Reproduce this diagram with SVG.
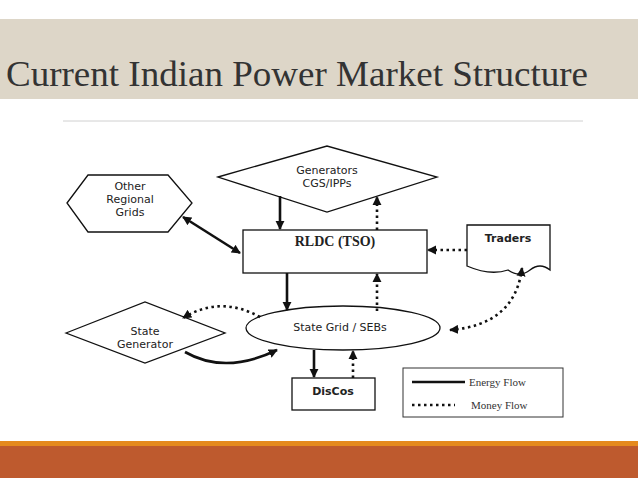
<svg xmlns="http://www.w3.org/2000/svg" width="638" height="478" viewBox="0 0 638 478">
<style>
.s{fill:#fff;stroke:#111;stroke-width:1.3}
.t{font-family:"DejaVu Sans",sans-serif;font-size:11px;fill:#222;text-anchor:middle}
.e{fill:none;stroke:#111;stroke-width:2.6}
.m{fill:none;stroke:#111;stroke-width:2.6;stroke-dasharray:2.5 3.5}
</style>
<defs>
<marker id="a" viewBox="0 0 10 10" refX="9" refY="5" markerWidth="3.5" markerHeight="3.5" orient="auto-start-reverse"><path d="M0,0L10,5L0,10z" fill="#111"/></marker>
</defs>
<rect width="638" height="478" fill="#fff"/>
<rect y="19" width="638" height="80" fill="#ddd6c8"/>
<text x="6" y="86" font-family="Liberation Serif,serif" font-size="36" fill="#333" textLength="582" lengthAdjust="spacingAndGlyphs">Current Indian Power Market Structure</text>
<line x1="63" y1="121" x2="583" y2="121" stroke="#d0d0d0" stroke-width="1"/>
<rect y="441" width="638" height="5" fill="#e58a1e"/>
<rect y="446" width="638" height="32" fill="#be5a2e"/>
<g id="generators"><polygon class="s" points="218,177 327,146 437,177 327,212"/><text class="t" x="327" y="174">Generators</text><text class="t" x="327" y="187">CGS/IPPs</text></g>
<g id="other"><polygon class="s" points="67,203 88,175 168,175 192,203 168,232 88,232"/><text class="t" x="130" y="190">Other</text><text class="t" x="130" y="203">Regional</text><text class="t" x="130" y="216">Grids</text></g>
<g id="rldc"><rect class="s" x="243" y="230" width="184" height="43"/><text x="335" y="246" font-family="Liberation Serif,serif" font-weight="bold" font-size="14" text-anchor="middle" fill="#222">RLDC  (TSO)</text></g>
<g id="traders"><path class="s" d="M467,225H550V270Q540,262 530,270T508,270Q490,276 467,266Z"/><text x="508" y="242" font-family="DejaVu Sans,sans-serif" font-weight="bold" font-size="11" text-anchor="middle" fill="#222">Traders</text></g>
<g id="stategrid"><ellipse class="s" cx="343" cy="328" rx="97" ry="22"/><text class="t" x="340" y="331">State Grid / SEBs</text></g>
<g id="stategen"><polygon class="s" points="66,333 145,302 225,333 145,363"/><text class="t" x="145" y="335">State</text><text class="t" x="145" y="348">Generator</text></g>
<g id="discos"><rect class="s" x="292" y="378" width="83" height="32"/><text x="333" y="395" font-family="DejaVu Sans,sans-serif" font-weight="bold" font-size="11" text-anchor="middle" fill="#222">DisCos</text></g>
<g id="legend"><rect x="403" y="368" width="160" height="49" fill="#fff" stroke="#333" stroke-width="1"/>
<line x1="412" y1="382" x2="465" y2="382" stroke="#111" stroke-width="2.6"/>
<line x1="412" y1="405" x2="455" y2="405" stroke="#111" stroke-width="2.6" stroke-dasharray="2.5 3.5"/>
<text x="469" y="386" font-family="Liberation Serif,serif" font-size="11" fill="#333">Energy Flow</text>
<text x="471" y="409" font-family="Liberation Serif,serif" font-size="11" fill="#333">Money Flow</text></g>
<g id="connectors">
<path class="e" d="M280,196V229" marker-end="url(#a)"/>
<path class="m" d="M377,230V197" marker-end="url(#a)"/>
<path class="e" d="M183,217L240,253" marker-start="url(#a)" marker-end="url(#a)"/>
<path class="e" d="M287,273V310" marker-end="url(#a)"/>
<path class="m" d="M377,311V274" marker-end="url(#a)"/>
<path class="m" d="M467,250H428" marker-end="url(#a)"/>
<path class="m" d="M450,330Q515,325 522,268" marker-start="url(#a)" marker-end="url(#a)"/>
<path class="m" d="M260,317Q220,295 183,318" marker-end="url(#a)"/>
<path class="e" d="M185,352Q225,375 277,350" marker-end="url(#a)"/>
<path class="e" d="M314,350V377" marker-end="url(#a)"/>
<path class="m" d="M353,378V351" marker-end="url(#a)"/>
</g>
</svg>
